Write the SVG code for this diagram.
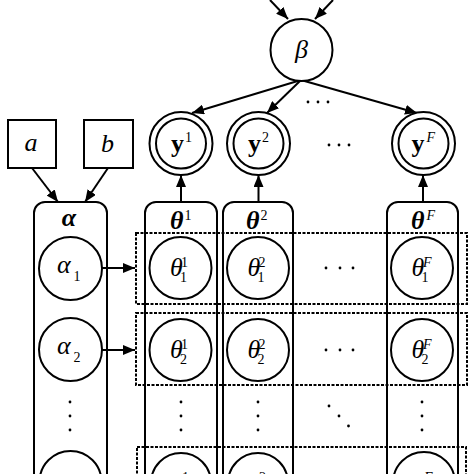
<svg xmlns="http://www.w3.org/2000/svg" width="474" height="474" viewBox="0 0 474 474">
<defs>
<marker id="ah" markerWidth="12" markerHeight="10" refX="12" refY="5" orient="auto" markerUnits="userSpaceOnUse">
<path d="M0,0 L12,5 L0,10 Z" fill="#000"/>
</marker>
<style>
.s{fill:#fff;stroke:#000;stroke-width:2}
.n{fill:none;stroke:#000;stroke-width:2}
.d{fill:none;stroke:#000;stroke-width:2;stroke-dasharray:3,1.5}
.c{fill:none;stroke:#000;stroke-width:2;marker-end:url(#ah)}
.t{font-family:"Liberation Serif","Times New Roman",serif;font-size:26px;fill:#000}
.i{font-style:italic}
.b{font-weight:bold}
.sm{font-size:14px;font-style:normal;font-weight:normal}
.smi{font-size:14px;font-style:italic;font-weight:normal}
.dot{fill:#000}
</style>
</defs>
<rect width="474" height="474" fill="#fff"/>

<g id="columns">
<rect id="col-alpha" class="n" x="34" y="202" width="73" height="310" rx="11"/>
<rect id="col-theta1" class="n" x="145" y="202" width="72" height="310" rx="11"/>
<rect id="col-theta2" class="n" x="223" y="202" width="70" height="310" rx="11"/>
<rect id="col-thetaF" class="n" x="387" y="202" width="71" height="310" rx="11"/>
</g>

<g id="connectors">
<line class="c" x1="270" y1="0" x2="288" y2="19"/>
<line class="c" x1="333" y1="0" x2="315" y2="19"/>
<line class="c" x1="301" y1="80" x2="192" y2="113"/>
<line class="c" x1="301" y1="80" x2="267" y2="113"/>
<line class="c" x1="301" y1="80" x2="417" y2="113"/>
<line class="c" x1="32" y1="168" x2="58" y2="202"/>
<line class="c" x1="108" y1="168" x2="85" y2="202"/>
<line class="c" x1="181" y1="202" x2="181" y2="175"/>
<line class="c" x1="258.5" y1="202" x2="258.5" y2="175"/>
<line class="c" x1="423" y1="202" x2="423" y2="175"/>
<line class="c" x1="102" y1="268" x2="135" y2="268"/>
<line class="c" x1="102" y1="350" x2="135" y2="350"/>
</g>

<g id="beta">
<circle class="s" cx="301.5" cy="50" r="31"/>
<text class="t i" x="301.5" y="58" text-anchor="middle" font-size="27">β</text>
</g>

<g id="y1">
<circle class="s" cx="181" cy="143.5" r="31.5"/>
<circle class="n" cx="181" cy="143.5" r="25"/>
<text class="t b" x="171" y="152">y<tspan class="sm" dx="1" dy="-10">1</tspan></text>
</g>
<g id="y2">
<circle class="s" cx="258.5" cy="143.5" r="31.5"/>
<circle class="n" cx="258.5" cy="143.5" r="25"/>
<text class="t b" x="248" y="152">y<tspan class="sm" dx="1" dy="-10">2</tspan></text>
</g>
<g id="yF">
<circle class="s" cx="423.5" cy="143.5" r="31.5"/>
<circle class="n" cx="423.5" cy="143.5" r="25"/>
<text class="t b" x="411.5" y="152">y<tspan class="smi" dx="2" dy="-10">F</tspan></text>
</g>

<g id="a">
<rect class="s" x="8" y="120" width="48" height="48"/>
<text class="t i" x="31" y="151" text-anchor="middle" font-size="26">a</text>
</g>
<g id="b">
<rect class="s" x="84" y="120" width="49" height="48"/>
<text class="t i" x="107.5" y="152" text-anchor="middle" font-size="26">b</text>
</g>

<g id="labels">
<text class="t i b" x="69" y="226" text-anchor="middle">α</text>
<text class="t i b" x="170" y="229">θ<tspan class="sm" dx="1" dy="-9">1</tspan></text>
<text class="t i b" x="246" y="229">θ<tspan class="sm" dx="1" dy="-9">2</tspan></text>
<text class="t i b" x="411" y="229">θ<tspan class="smi" dx="2" dy="-9">F</tspan></text>
</g>

<g id="alpha1">
<circle class="s" cx="70.5" cy="268.5" r="31.5"/>
<text class="t i" x="57" y="273">α</text>
<text class="t sm" x="73.5" y="281">1</text>
</g>
<g id="alpha2">
<circle class="s" cx="70.5" cy="349.5" r="31.5"/>
<text class="t i" x="57" y="354">α</text>
<text class="t sm" x="73.5" y="362">2</text>
</g>
<g id="alphan">
<circle class="s" cx="70.5" cy="482" r="31"/>
</g>

<g id="rows">
<rect class="d" x="136" y="233" width="331" height="71"/>
<rect class="d" x="136" y="313" width="331" height="72"/>
<rect class="d" x="137" y="447" width="329" height="60"/>
</g>

<g id="theta11">
<circle class="s" cx="180.5" cy="268" r="31"/>
<text class="t i" x="170" y="276">θ</text>
<text class="t sm" x="181" y="267">1</text>
<text class="t sm" x="180" y="282">1</text>
</g>
<g id="theta12">
<circle class="s" cx="258" cy="268" r="31"/>
<text class="t i" x="247.5" y="276">θ</text>
<text class="t sm" x="258.5" y="267">2</text>
<text class="t sm" x="257.5" y="282">1</text>
</g>
<g id="theta1F">
<circle class="s" cx="422" cy="268" r="31"/>
<text class="t i" x="411.5" y="276">θ</text>
<text class="t smi" x="423" y="267">F</text>
<text class="t sm" x="421.5" y="282">1</text>
</g>
<g id="theta21">
<circle class="s" cx="180.5" cy="350" r="31"/>
<text class="t i" x="170" y="358">θ</text>
<text class="t sm" x="181" y="349">1</text>
<text class="t sm" x="180" y="364">2</text>
</g>
<g id="theta22">
<circle class="s" cx="258" cy="350" r="31"/>
<text class="t i" x="247.5" y="358">θ</text>
<text class="t sm" x="258.5" y="349">2</text>
<text class="t sm" x="257.5" y="364">2</text>
</g>
<g id="theta2F">
<circle class="s" cx="422" cy="350" r="31"/>
<text class="t i" x="411.5" y="358">θ</text>
<text class="t smi" x="423" y="349">F</text>
<text class="t sm" x="421.5" y="364">2</text>
</g>
<g id="thetan1">
<circle class="s" cx="181" cy="483" r="30"/>
<text class="t sm" x="182" y="482">1</text>
</g>
<g id="thetan2">
<circle class="s" cx="258" cy="483" r="30"/>
<text class="t sm" x="259" y="482">2</text>
</g>
<g id="thetanF">
<circle class="s" cx="424" cy="483" r="31"/>
<text class="t smi" x="424" y="482">F</text>
</g>

<g id="ellipses">
<circle class="dot" cx="308" cy="102" r="1.4"/><circle class="dot" cx="318" cy="102" r="1.4"/><circle class="dot" cx="328" cy="102" r="1.4"/>
<circle class="dot" cx="329" cy="145" r="1.4"/><circle class="dot" cx="339" cy="145" r="1.4"/><circle class="dot" cx="349" cy="145" r="1.4"/>
<circle class="dot" cx="326" cy="268" r="1.4"/><circle class="dot" cx="340" cy="268" r="1.4"/><circle class="dot" cx="353" cy="268" r="1.4"/>
<circle class="dot" cx="326" cy="350" r="1.4"/><circle class="dot" cx="340" cy="350" r="1.4"/><circle class="dot" cx="353" cy="350" r="1.4"/>
<circle class="dot" cx="70" cy="402" r="1.4"/><circle class="dot" cx="70" cy="416" r="1.4"/><circle class="dot" cx="70" cy="430" r="1.4"/>
<circle class="dot" cx="181" cy="402" r="1.4"/><circle class="dot" cx="181" cy="416" r="1.4"/><circle class="dot" cx="181" cy="430" r="1.4"/>
<circle class="dot" cx="258" cy="402" r="1.4"/><circle class="dot" cx="258" cy="416" r="1.4"/><circle class="dot" cx="258" cy="430" r="1.4"/>
<circle class="dot" cx="422" cy="402" r="1.4"/><circle class="dot" cx="422" cy="416" r="1.4"/><circle class="dot" cx="422" cy="430" r="1.4"/>
<circle class="dot" cx="329" cy="406" r="1.4"/><circle class="dot" cx="339" cy="416" r="1.4"/><circle class="dot" cx="348.5" cy="426" r="1.4"/>
</g>
</svg>
